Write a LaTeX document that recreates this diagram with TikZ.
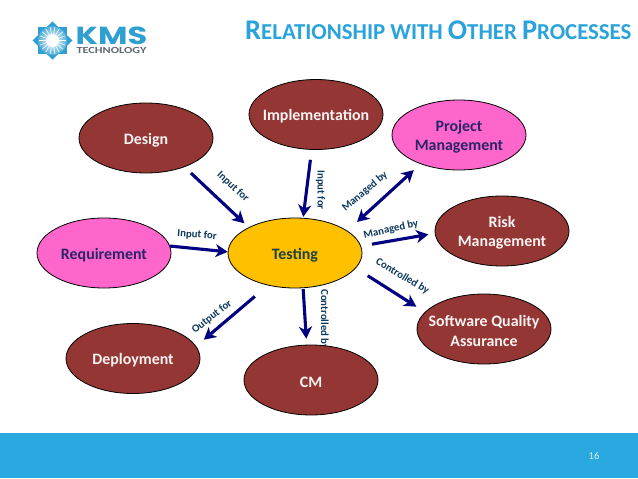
\documentclass[tikz,border=0pt]{standalone}
\usepackage{fontspec}
\setmainfont{Carlito}
\newfontfamily\logofont{Poppins}
\usetikzlibrary{shapes.geometric,arrows.meta}
\definecolor{brownfill}{HTML}{943634}
\definecolor{pinkfill}{HTML}{FF66CC}
\definecolor{yellowfill}{HTML}{FFC000}
\definecolor{bandblue}{HTML}{29A9E0}
\definecolor{titleblue}{HTML}{29A3DA}
\definecolor{arrownavy}{HTML}{000080}
\definecolor{labelnavy}{HTML}{0F3A5F}
\definecolor{pinktext}{HTML}{2A2468}
\definecolor{testtext}{HTML}{21403A}
\definecolor{logoblue}{HTML}{2F9FD2}
\definecolor{logogrey}{HTML}{5E6B70}
\newcommand{\bigsc}[1]{{\fontsize{28.5}{28}\selectfont #1}}
\newcommand{\dn}[1]{\raisebox{-2pt}[\height][\depth]{#1}}
\tikzset{
  x=1pt,y=-1pt,
  proc/.style={ellipse,draw=black,line width=0.8pt,minimum width=134pt,minimum height=70pt,
    inner xsep=-30pt,inner ysep=-10pt,align=center,font=\fontsize{15.9}{19.2}\selectfont\bfseries},
  brownproc/.style={proc,fill=brownfill,text=white!94!brownfill},
  pinkproc/.style={proc,fill=pinkfill,text=pinktext},
  testproc/.style={proc,fill=yellowfill,text=testtext},
  link/.style={draw=arrownavy,line width=3.1pt,-{Stealth[length=12pt,width=13pt,inset=3.5pt]}},
  biglink/.style={draw=arrownavy,line width=3.1pt,{Stealth[length=12pt,width=13pt,inset=3.5pt]}-{Stealth[length=12pt,width=13pt,inset=3.5pt]}},
  tag/.style={text=labelnavy,inner sep=0pt,font=\fontsize{10.8}{12}\selectfont\bfseries},
}
\begin{document}
\begin{tikzpicture}
\useasboundingbox (0,0) rectangle (638,479);
\fill[white] (0,0) rectangle (638,479);
% band
\fill[bandblue] (0,433) rectangle (638,478);
\node[text=white!85!bandblue,inner sep=0pt,font=\fontsize{10.5}{12}\selectfont] (pagenum) at (594,456) {16};
% title
\node[anchor=base west,inner sep=0pt,text=titleblue,font=\fontsize{22.8}{28}\selectfont\bfseries] (title) at (245,39)
  {\bigsc{R}ELATIONSHIP WITH \bigsc{O}THER \bigsc{P}ROCESSES};
% logo
\fill[logoblue] (38,27) rectangle (67,54);
\fill[logoblue] (52.5,21.5) -- (72.5,40.5) -- (52.5,59.5) -- (32.5,40.5) -- cycle;
\shade[inner color=white,outer color=logoblue!85!white] (52.5,40.5) circle (14.5);
\foreach \a in {0,20,...,340}{\draw[white,line width=0.6pt] (52.5,40.5) -- ++(\a:13.5);}
\fill[white] (52.5,40.5) circle (6.5);
\node[inner sep=0pt,text=logoblue,xscale=1.46,yscale=1.12,font=\logofont\fontsize{22}{22}\selectfont\bfseries] (kms) at (111.5,36) {KMS};
\node[inner sep=0pt,text=logogrey,font=\fontsize{9.3}{10}\selectfont\bfseries,xscale=1.32] (tech) at (111.5,50.5) {TECHNOLOGY};
% labels behind the ellipses
\node[tag,rotate=-43] (t1) at (233,187) {Input for};
\node[tag,rotate=-90] (t2) at (320.5,190) {Input for};
\node[tag,rotate=-4] (t3) at (197,235) {Input for};
\node[tag,rotate=38] (t4) at (212,317) {Output for};
\node[tag,rotate=-90] (t5) at (324,319.5) {Controlled by};
\node[tag,rotate=-31] (t6) at (402.5,276.5) {Controlled by};
\node[tag,rotate=40] (t7) at (365,191.5) {Managed by};
\node[tag,rotate=12] (t8) at (391,229.5) {Managed by};
% processes
\node[brownproc] (design) at (146,138) {\dn{Design}};
\node[brownproc] (impl) at (316,114.5) {\dn{Implementation}};
\node[pinkproc] (pm) at (459,135) {\dn{Project}\\\dn{Management}};
\node[brownproc] (risk) at (502,231) {\dn{Risk}\\\dn{Management}};
\node[brownproc] (sqa) at (484,329) {\dn{Software Quality}\\\dn{Assurance}};
\node[brownproc] (cm) at (311,380) {\dn{CM}};
\node[brownproc] (deploy) at (133,358.5) {\dn{Deployment}};
\node[pinkproc] (req) at (104,253) {\dn{Requirement}};
\node[testproc] (test) at (295,253) {\dn{Testing}};
% connectors
\draw[link,shorten <=8.8pt,shorten >=5.8pt] (design.-37.6) -- (test.151.9);
\draw[link,shorten <=10pt,shorten >=1pt] (impl.-97.8) -- (test.77);
\draw[link] (req.6) -- (test.179);
\draw[link,shorten <=17pt,shorten >=10pt] (test.230) -- (deploy.11.9);
\draw[link,shorten <=1pt,shorten >=6pt] (test.-77) -- (cm.97.2);
\draw[link,shorten <=14pt,shorten >=10pt] (test.-14.6) -- (sqa.164);
\draw[link,shorten <=11pt,shorten >=6.5pt] (test.6.4) -- (risk.182.6);
\draw[biglink,shorten <=13pt,shorten >=9pt] (test.23) -- (pm.217.9);
\end{tikzpicture}
\end{document}
